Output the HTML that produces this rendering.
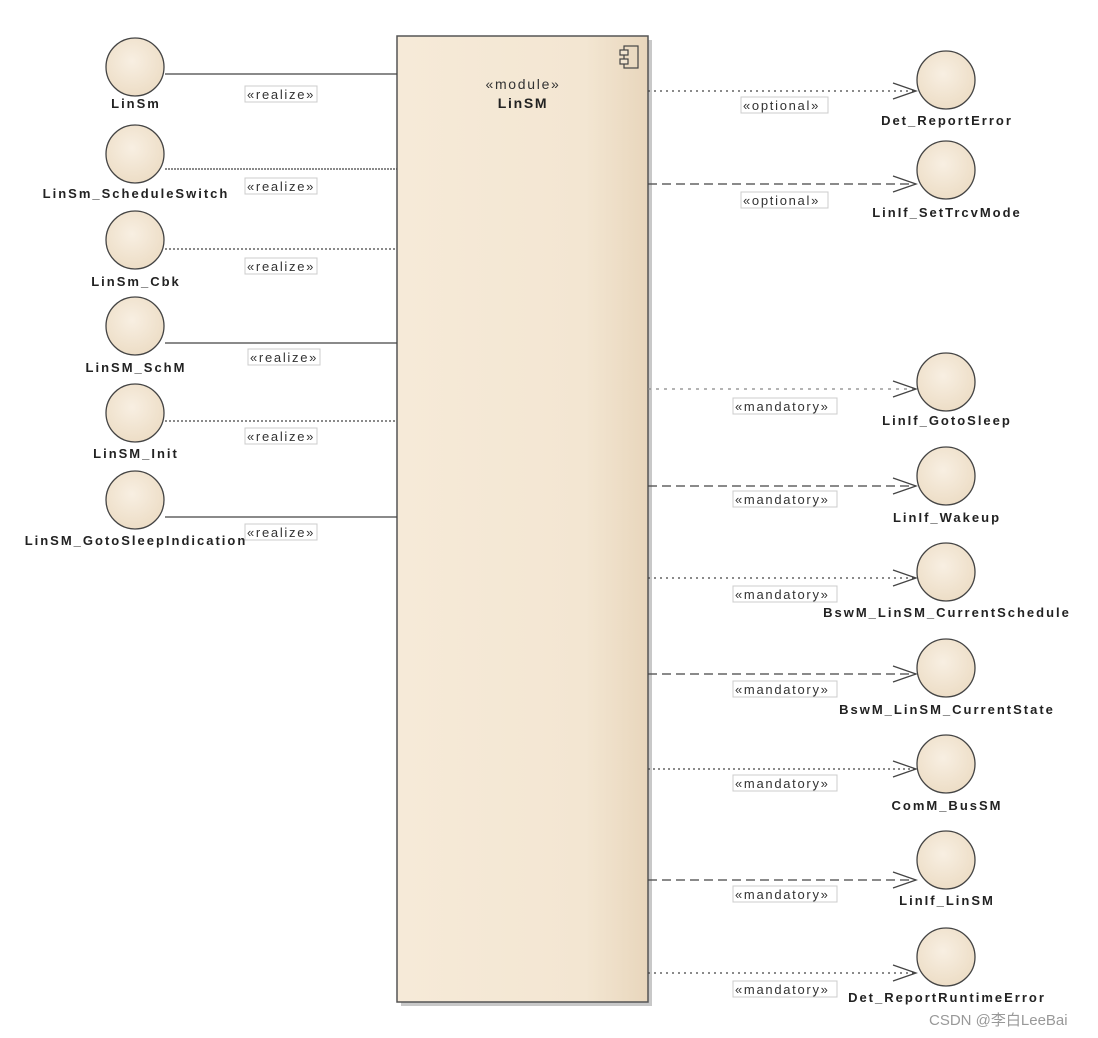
<!DOCTYPE html>
<html><head><meta charset="utf-8"><style>
html,body{margin:0;padding:0;background:#fff;width:1098px;height:1038px;overflow:hidden}
svg{display:block}
text{font-family:"Liberation Sans",sans-serif}
.lb{letter-spacing:2px}
.st{letter-spacing:1.7px}
</style></head><body>
<svg width="1098" height="1038" viewBox="0 0 1098 1038" xmlns="http://www.w3.org/2000/svg">
<defs>
<radialGradient id="cg" cx="45%" cy="40%" r="65%"><stop offset="0" stop-color="#f8efe2"/><stop offset="1" stop-color="#ecdcc4"/></radialGradient>
<linearGradient id="bg" x1="0" x2="1"><stop offset="0" stop-color="#f6ead8"/><stop offset="0.75" stop-color="#f3e6d2"/><stop offset="1" stop-color="#e8d6bc"/></linearGradient>
</defs>
<rect x="401" y="40" width="251" height="966" fill="#c8c8c8"/>
<rect x="397" y="36" width="251" height="966" fill="url(#bg)" stroke="#555" stroke-width="1.5"/>
<g fill="none" stroke="#444" stroke-width="1.2">
<rect x="624" y="46" width="14" height="22"/><rect x="620" y="50" width="8" height="5" fill="#f3e6d2"/><rect x="620" y="59" width="8" height="5" fill="#f3e6d2"/>
</g>
<text x="523" y="89" font-size="14" text-anchor="middle" fill="#333" class="st">«module»</text>
<text x="523" y="108" font-size="14" font-weight="bold" text-anchor="middle" fill="#222" class="st">LinSM</text>
<g stroke="#444" stroke-width="1.3">
<line x1="165" y1="74" x2="397" y2="74"/>
<line x1="165" y1="169" x2="397" y2="169" stroke-dasharray="2,1"/>
<line x1="165" y1="249" x2="397" y2="249" stroke-dasharray="2,2"/>
<line x1="165" y1="343" x2="397" y2="343"/>
<line x1="165" y1="421" x2="397" y2="421" stroke-dasharray="2,2"/>
<line x1="165" y1="517" x2="397" y2="517"/>
</g>
<g fill="url(#cg)" stroke="#444" stroke-width="1.3">
<circle cx="135" cy="67" r="29"/><circle cx="135" cy="154" r="29"/><circle cx="135" cy="240" r="29"/>
<circle cx="135" cy="326" r="29"/><circle cx="135" cy="413" r="29"/><circle cx="135" cy="500" r="29"/>
</g>
<g font-size="13" font-weight="bold" fill="#222" text-anchor="middle" class="lb">
<text x="136" y="108">LinSm</text>
<text x="136" y="198">LinSm_ScheduleSwitch</text>
<text x="136" y="286">LinSm_Cbk</text>
<text x="136" y="372">LinSM_SchM</text>
<text x="136" y="458">LinSM_Init</text>
<text x="136" y="545">LinSM_GotoSleepIndication</text>
</g>
<g fill="#fff" stroke="#ccc">
<rect x="245" y="86" width="72" height="16"/><rect x="245" y="178" width="72" height="16"/><rect x="245" y="258" width="72" height="16"/>
<rect x="248" y="349" width="72" height="16"/><rect x="245" y="428" width="72" height="16"/><rect x="245" y="524" width="72" height="16"/>
</g>
<g font-size="13" fill="#333" class="st">
<text x="247" y="99">«realize»</text><text x="247" y="191">«realize»</text><text x="247" y="271">«realize»</text>
<text x="250" y="362">«realize»</text><text x="247" y="441">«realize»</text><text x="247" y="537">«realize»</text>
</g>
<g stroke="#444" stroke-width="1.3" fill="none">
<line x1="648" y1="91" x2="916" y2="91" stroke-dasharray="2,4"/>
<line x1="648" y1="184" x2="916" y2="184" stroke-dasharray="9,5"/>
<line x1="648" y1="389" x2="916" y2="389" stroke-dasharray="3,5" stroke="#888"/>
<line x1="648" y1="486" x2="916" y2="486" stroke-dasharray="9,5"/>
<line x1="648" y1="578" x2="916" y2="578" stroke-dasharray="2,4"/>
<line x1="648" y1="674" x2="916" y2="674" stroke-dasharray="9,5"/>
<line x1="648" y1="769" x2="916" y2="769" stroke-dasharray="2,3"/>
<line x1="648" y1="880" x2="916" y2="880" stroke-dasharray="9,5"/>
<line x1="648" y1="973" x2="916" y2="973" stroke-dasharray="2,4"/>
<path d="M893 83 L916 91 L893 99"/><path d="M893 176 L916 184 L893 192"/><path d="M893 381 L916 389 L893 397"/>
<path d="M893 478 L916 486 L893 494"/><path d="M893 570 L916 578 L893 586"/><path d="M893 666 L916 674 L893 682"/>
<path d="M893 761 L916 769 L893 777"/><path d="M893 872 L916 880 L893 888"/><path d="M893 965 L916 973 L893 981"/>
</g>
<g fill="url(#cg)" stroke="#444" stroke-width="1.3">
<circle cx="946" cy="80" r="29"/><circle cx="946" cy="170" r="29"/><circle cx="946" cy="382" r="29"/>
<circle cx="946" cy="476" r="29"/><circle cx="946" cy="572" r="29"/><circle cx="946" cy="668" r="29"/>
<circle cx="946" cy="764" r="29"/><circle cx="946" cy="860" r="29"/><circle cx="946" cy="957" r="29"/>
</g>
<g font-size="13" font-weight="bold" fill="#222" text-anchor="middle" class="lb">
<text x="947" y="125">Det_ReportError</text>
<text x="947" y="217">LinIf_SetTrcvMode</text>
<text x="947" y="425">LinIf_GotoSleep</text>
<text x="947" y="522">LinIf_Wakeup</text>
<text x="947" y="617">BswM_LinSM_CurrentSchedule</text>
<text x="947" y="714">BswM_LinSM_CurrentState</text>
<text x="947" y="810">ComM_BusSM</text>
<text x="947" y="905">LinIf_LinSM</text>
<text x="947" y="1002">Det_ReportRuntimeError</text>
</g>
<g fill="#fff" stroke="#ccc">
<rect x="741" y="97" width="87" height="16"/><rect x="741" y="192" width="87" height="16"/>
<rect x="733" y="398" width="104" height="16"/><rect x="733" y="491" width="104" height="16"/>
<rect x="733" y="586" width="104" height="16"/><rect x="733" y="681" width="104" height="16"/>
<rect x="733" y="775" width="104" height="16"/><rect x="733" y="886" width="104" height="16"/>
<rect x="733" y="981" width="104" height="16"/>
</g>
<g font-size="13" fill="#333" class="st">
<text x="743" y="110">«optional»</text><text x="743" y="205">«optional»</text>
<text x="735" y="411">«mandatory»</text><text x="735" y="504">«mandatory»</text><text x="735" y="599">«mandatory»</text>
<text x="735" y="694">«mandatory»</text><text x="735" y="788">«mandatory»</text><text x="735" y="899">«mandatory»</text>
<text x="735" y="994">«mandatory»</text>
</g>
<text x="929" y="1025" font-size="15" fill="#999" font-family="Liberation Sans, Noto Sans CJK SC, sans-serif">CSDN @李白LeeBai</text>
</svg>
</body></html>
